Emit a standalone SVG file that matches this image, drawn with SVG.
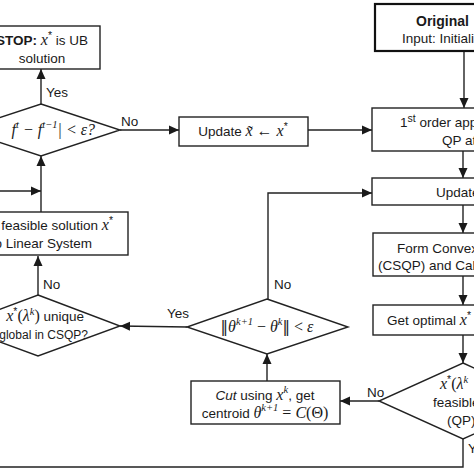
<svg xmlns="http://www.w3.org/2000/svg" width="474" height="474" viewBox="0 0 474 474">
<defs>
<marker id="ah" markerUnits="userSpaceOnUse" markerWidth="10" markerHeight="10" viewBox="0 0 10 10" refX="10" refY="5" orient="auto">
<path d="M0,0.5 L10,5 L0,9.5 Z" fill="#1a1a1a"/>
</marker>
<style>
.b{fill:#fff;stroke:#222;stroke-width:1.4}
.c{fill:none;stroke:#222;stroke-width:1.4;marker-end:url(#ah)}
.p{fill:none;stroke:#222;stroke-width:1.4}
text{font-family:"Liberation Sans",Arial,sans-serif;font-size:13.5px;fill:#1a1a1a}
.m{font-family:"Liberation Serif","DejaVu Serif",serif;font-style:italic;font-size:16px}
.r{font-family:"Liberation Serif","DejaVu Serif",serif;font-size:16px}
.n{font-family:"DejaVu Sans",sans-serif;font-size:15px;fill:#1a1a1a}
.s{font-size:10.5px}
</style>
</defs>
<rect width="474" height="474" fill="#fff"/>

<g id="connectors">
<line class="c" x1="41" y1="104" x2="41" y2="69"/>
<line class="c" x1="120" y1="130" x2="179" y2="130"/>
<line class="c" x1="308" y1="130" x2="372" y2="130"/>
<line class="c" x1="464" y1="51" x2="464" y2="108"/>
<line class="c" x1="463" y1="151" x2="463" y2="178"/>
<polyline class="c" points="268,299 268,193 372,193"/>
<line class="c" x1="463" y1="205" x2="463" y2="233"/>
<line class="c" x1="463" y1="276" x2="463" y2="305"/>
<line class="c" x1="463" y1="335" x2="463" y2="363"/>
<line class="c" x1="379" y1="401" x2="340" y2="401"/>
<polyline class="p" points="463,439 463,467 -5,467"/>
<line class="c" x1="267" y1="381" x2="267" y2="354"/>
<line class="c" x1="187" y1="327" x2="120" y2="326"/>
<line class="c" x1="38" y1="295" x2="38" y2="256"/>
<line class="c" x1="41" y1="212" x2="41" y2="156"/>
<line class="c" x1="-5" y1="191" x2="41" y2="191"/>
<text x="46" y="97">Yes</text>
<text x="121" y="126">No</text>
<text x="274" y="289">No</text>
<text x="367" y="397">No</text>
<text x="468" y="453">Yes</text>
<text x="167" y="318">Yes</text>
<text x="43" y="289">No</text>
</g>

<g id="stop">
<rect class="b" x="-20" y="26" width="120" height="43"/>
<text x="88" y="45" text-anchor="end"><tspan font-weight="bold">STOP:</tspan> <tspan class="m">x</tspan><tspan class="s" dy="-6">*</tspan><tspan dy="6"> is UB</tspan></text>
<text x="42" y="63" text-anchor="middle">solution</text>
</g>

<g id="conv-check">
<polygon class="b" points="41,104 120,130 41,156 -38,130"/>
<text x="95" y="135" text-anchor="end" class="m"><tspan>f</tspan><tspan class="s" dy="-7">t</tspan><tspan dy="7" class="r"> − </tspan><tspan>f</tspan><tspan class="s" dy="-7">t−1</tspan><tspan dy="7" class="r">| &lt; </tspan><tspan>ε?</tspan></text>
</g>

<g id="update-x">
<rect class="b" x="179" y="117" width="129" height="29"/>
<text x="243" y="136" text-anchor="middle">Update <tspan class="m">x̃</tspan><tspan class="r"> ← </tspan><tspan class="m">x</tspan><tspan class="s" dy="-6">*</tspan></text>
</g>

<g id="original">
<rect x="375" y="4" width="120" height="47" fill="#fff" stroke="#111" stroke-width="2.2"/>
<text x="416" y="26" font-weight="bold" style="font-size:14px">Original</text>
<text x="402" y="43">Input: Initiali</text>
</g>

<g id="first-order">
<rect class="b" x="372" y="108" width="120" height="43"/>
<text x="400" y="127">1<tspan class="s" dy="-5">st</tspan><tspan dy="5"> order app</tspan></text>
<text x="442" y="145">QP at</text>
</g>

<g id="update2">
<rect class="b" x="372" y="178" width="120" height="27"/>
<text x="436" y="197">Update</text>
</g>

<g id="form-convex">
<rect class="b" x="373" y="233" width="120" height="43"/>
<text x="397" y="253">Form Convex</text>
<text x="378" y="270">(CSQP) and Cal</text>
</g>

<g id="get-optimal">
<rect class="b" x="373" y="305" width="120" height="30"/>
<text x="387" y="325">Get optimal <tspan class="m">x</tspan><tspan class="s" dy="-6">*</tspan></text>
</g>

<g id="feasible-check">
<polygon class="b" points="463,363 547,401 463,439 379,401"/>
<text x="440" y="389"><tspan class="m">x</tspan><tspan class="s" dy="-6">*</tspan><tspan dy="6" class="r">(</tspan><tspan class="m">λ</tspan><tspan class="s m" dy="-6">k</tspan></text>
<text x="433" y="407">feasible</text>
<text x="447" y="425">(QP)?</text>
</g>

<g id="cut">
<rect class="b" x="191" y="381" width="149" height="43"/>
<text x="265" y="400" text-anchor="middle"><tspan font-style="italic">Cut</tspan> using <tspan class="m">x</tspan><tspan class="s m" dy="-7">k</tspan><tspan dy="7">, get</tspan></text>
<text x="265" y="418" text-anchor="middle">centroid <tspan class="m">θ</tspan><tspan class="s m" dy="-7">k+1</tspan><tspan dy="7" class="r"> = </tspan><tspan class="m">C</tspan><tspan class="r">(Θ)</tspan></text>
</g>

<g id="theta-check">
<polygon class="b" points="267,299 348,327 267,354 187,327"/>
<text x="267" y="332" text-anchor="middle" class="r"><tspan class="n">‖</tspan><tspan class="m">θ</tspan><tspan class="s m" dy="-7">k+1</tspan><tspan dy="7"> − </tspan><tspan class="m">θ</tspan><tspan class="s m" dy="-7">k</tspan><tspan dy="7" class="n">‖</tspan><tspan> &lt; </tspan><tspan class="m">ε</tspan></text>
</g>

<g id="unique-check">
<polygon class="b" points="38,295 120,326 38,356 -44,326"/>
<text x="84" y="321" text-anchor="end"><tspan class="m">x</tspan><tspan class="s" dy="-6">*</tspan><tspan dy="6" class="r">(</tspan><tspan class="m">λ</tspan><tspan class="s m" dy="-6">k</tspan><tspan dy="6" class="r">)</tspan> unique</text>
<text x="88" y="339" text-anchor="end" style="font-size:12px">global in CSQP?</text>
</g>

<g id="feasible-solution">
<rect class="b" x="-50" y="212" width="178" height="43"/>
<text x="113" y="230" text-anchor="end">feasible solution <tspan class="m">x</tspan><tspan class="s" dy="-6">*</tspan></text>
<text x="92" y="248" text-anchor="end">to Linear System</text>
</g>
</svg>
